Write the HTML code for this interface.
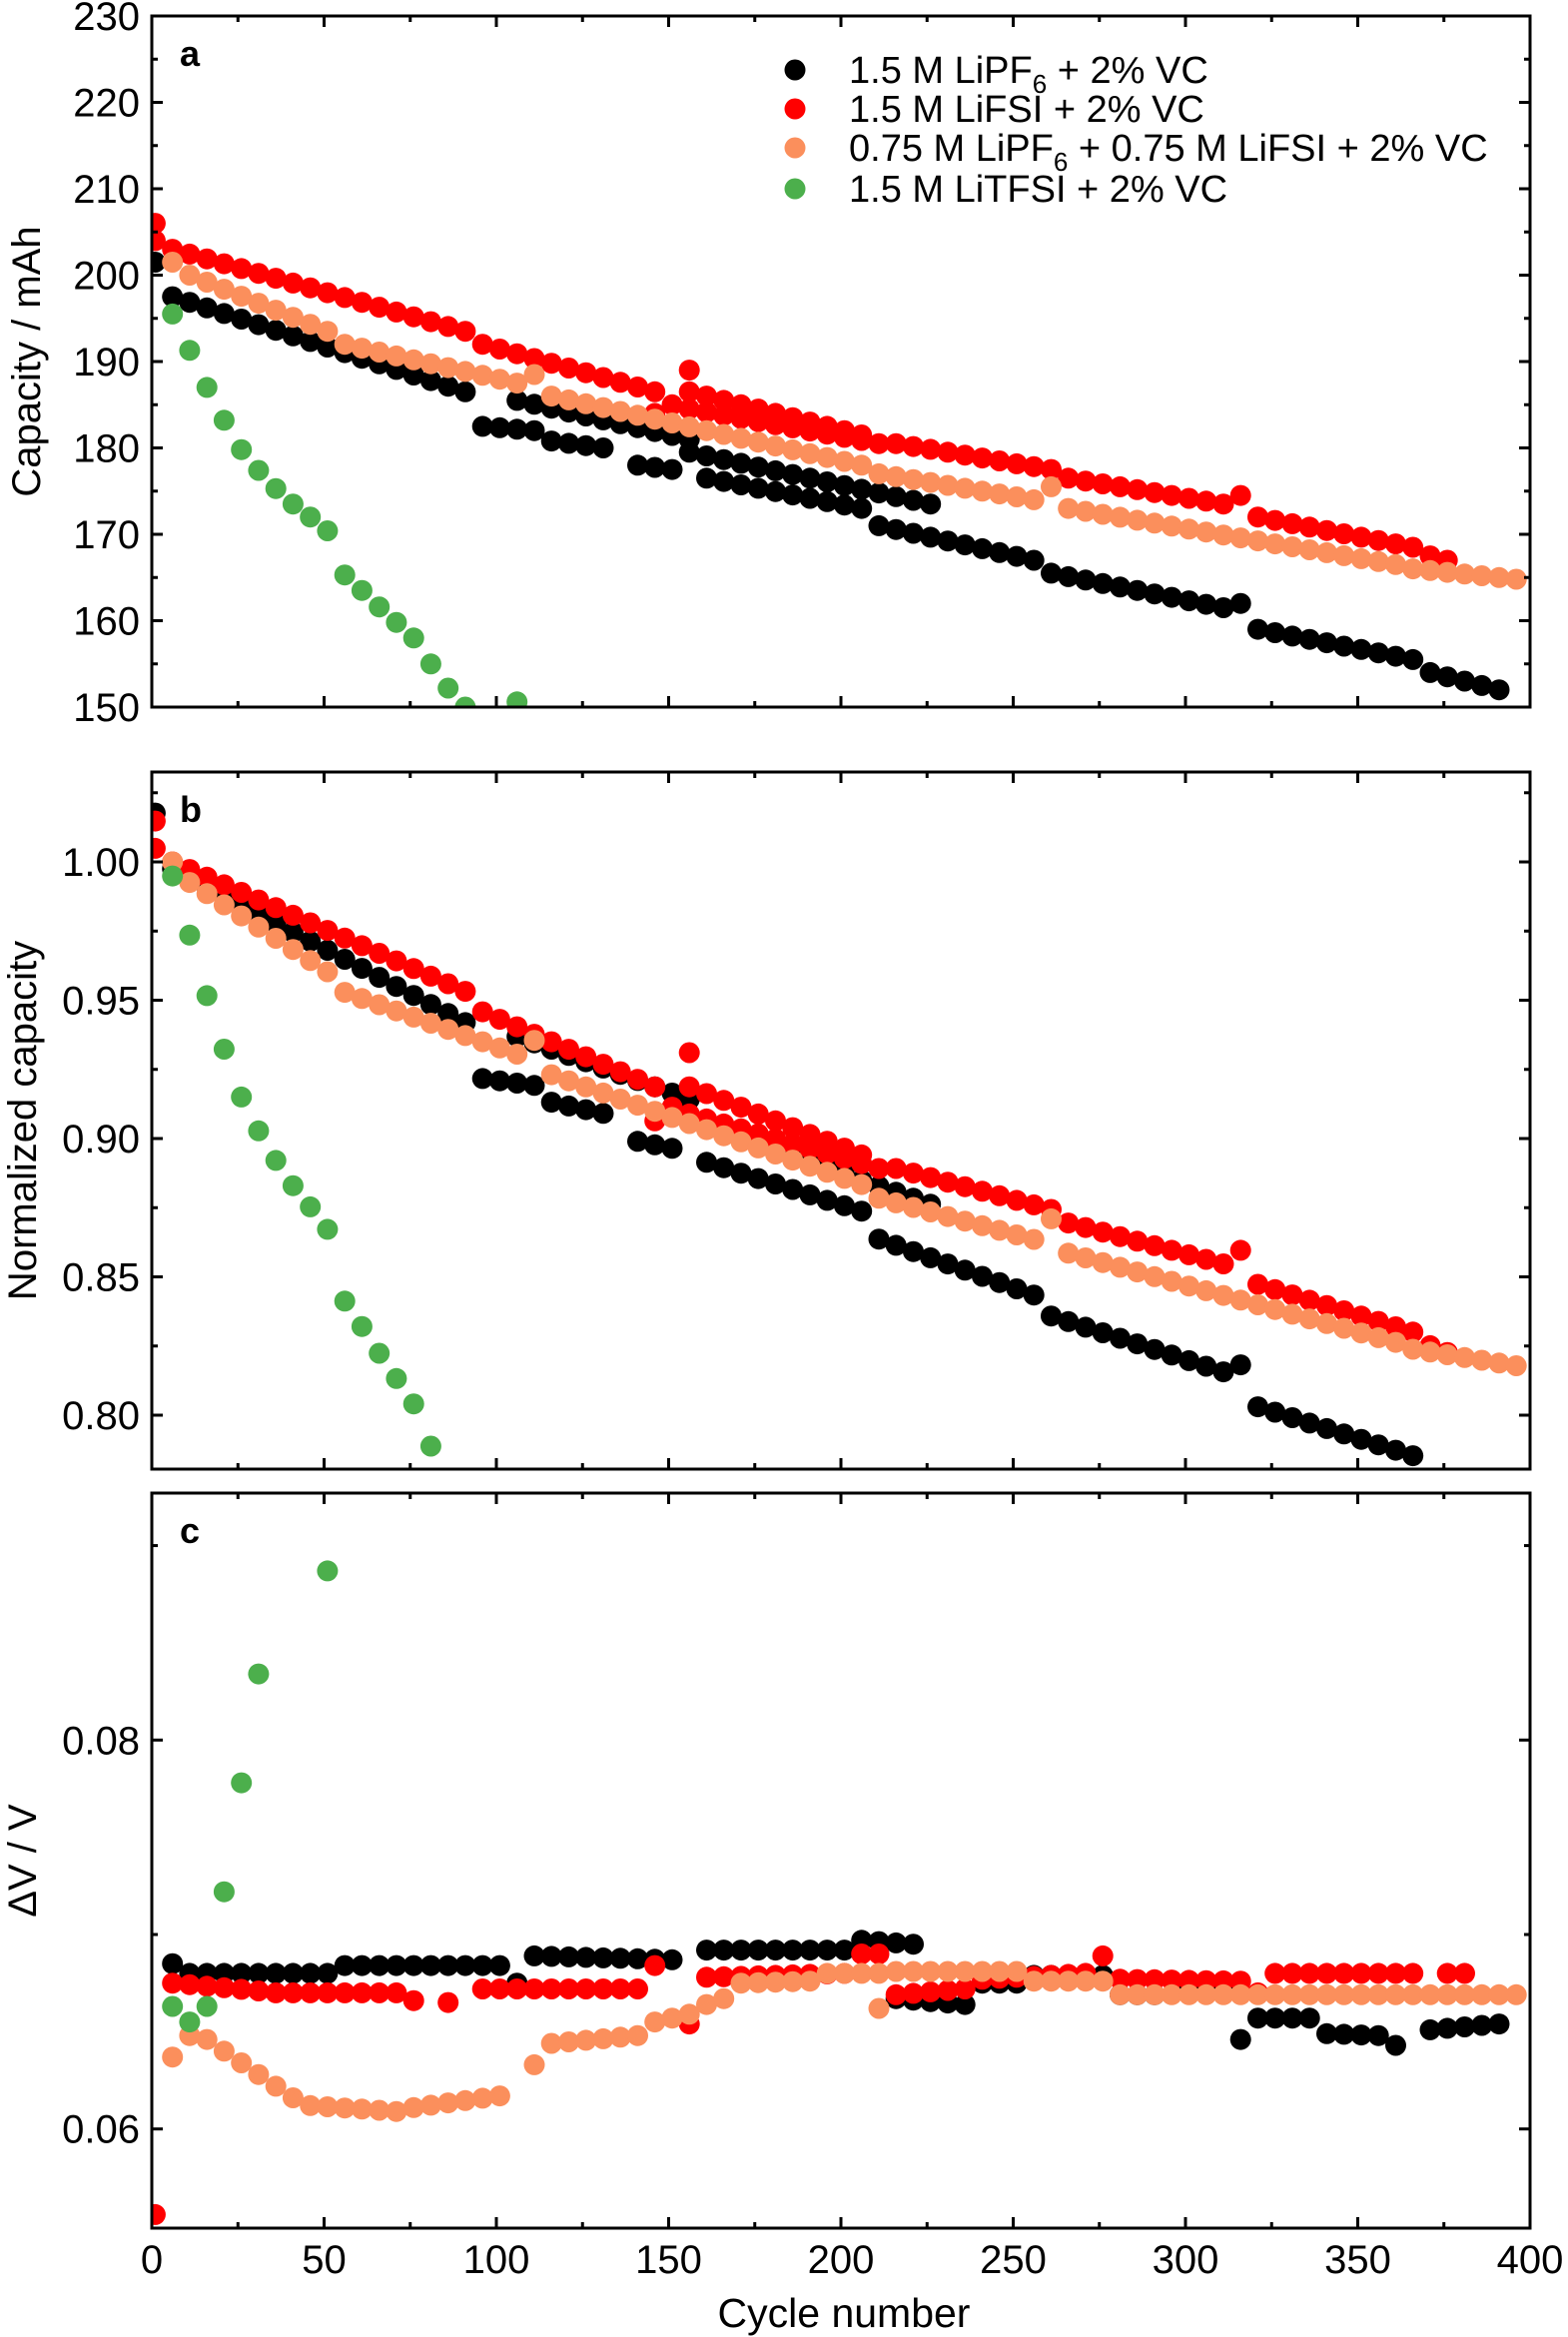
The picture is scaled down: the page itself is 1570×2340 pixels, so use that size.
<!DOCTYPE html>
<html><head><meta charset="utf-8"><style>
html,body{margin:0;padding:0;background:#fff;}
svg{display:block;font-family:"Liberation Sans",Arial,sans-serif;}
</style></head><body>
<svg id="s" width="1570" height="2340" viewBox="0 0 1570 2340" xmlns="http://www.w3.org/2000/svg">
<rect width="1570" height="2340" fill="#fff"/>
<g id="g"></g>
<g font-size="38" fill="#000">
<circle cx="796" cy="70" r="10.5" fill="#000"/>
<text x="850" y="83">1.5 M LiPF<tspan font-size="26" dy="10">6</tspan><tspan dy="-10"> + 2% VC</tspan></text>
<circle cx="796" cy="109" r="10.5" fill="#ff0000"/>
<text x="850" y="122">1.5 M LiFSI + 2% VC</text>
<circle cx="796" cy="148" r="10.5" fill="#fb8f5c"/>
<text x="850" y="161">0.75 M LiPF<tspan font-size="26" dy="10">6</tspan><tspan dy="-10"> + 0.75 M LiFSI + 2% VC</tspan></text>
<circle cx="796" cy="189" r="10.5" fill="#4caf4c"/>
<text x="850" y="202">1.5 M LiTFSI + 2% VC</text>
</g>
</svg>
<script>
var NS="http://www.w3.org/2000/svg",G=document.getElementById("g");
function el(t,a,txt){var e=document.createElementNS(NS,t);for(var k in a)e.setAttribute(k,a[k]);if(txt!=null)e.textContent=txt;G.appendChild(e);return e;}
var X0=152,X1=1532;function X(c){return X0+c*(X1-X0)/400;}
var P={
a:{t:16,b:708,min:150,max:230,maj:10,min2:5,fmt:function(v){return v.toFixed(0)},lab:"Capacity / mAh",lx:28},
b:{t:773,b:1471,min:0.7805,max:1.0325,maj:0.05,min2:0.025,fmt:function(v){return v.toFixed(2)},lab:"Normalized capacity",lx:24},
c:{t:1495,b:2231,min:0.0549,max:0.0927,maj:0.02,min2:0.01,fmt:function(v){return v.toFixed(2)},lab:"\u0394V / V",lx:24}};
function Y(p,v){return p.b-(v-p.min)*(p.b-p.t)/(p.max-p.min);}
function seg(arr,c0,v0,c1,v1){var n=Math.max(1,Math.round((c1-c0)/5));for(var i=0;i<=n;i++){var c=c0+(c1-c0)*i/n;arr.push([c,v0+(v1-v0)*i/n]);}if(c1==c0)arr.length-- ;}
function pt(arr,c,v){arr.push([c,v]);}
var K=[],R=[],O=[],Gr=[];
pt(K,1,201.5);seg(K,6,197.5,91,186.5);seg(K,96,182.5,111,182);seg(K,106,185.5,156,181);seg(K,116,180.8,131,180);seg(K,141,178,151,177.5);
seg(K,156,179.5,226,173.5);seg(K,161,176.5,206,173);seg(K,211,171,256,167);seg(K,261,165.5,311,161.5);pt(K,316,162);seg(K,321,159,366,155.5);seg(K,371,154,391,152);
pt(R,1,206);pt(R,1,204);seg(R,6,203,91,193.5);seg(R,96,192,146,186.5);pt(R,146,184);pt(R,151,185);pt(R,156,189);seg(R,156,184.5,211,180.5);seg(R,156,186.5,206,181.5);
seg(R,216,180.5,261,177.5);seg(R,266,176.5,311,173.5);pt(R,316,174.5);seg(R,321,172,366,168.5);seg(R,371,167.5,376,167);
pt(O,6,201.5);seg(O,11,200,51,193.5);seg(O,56,192,106,187.5);pt(O,111,188.5);seg(O,116,186,206,178);seg(O,211,177,256,174);pt(O,261,175.5);seg(O,266,173,361,166.5);seg(O,366,166,396,164.8);
[[6,195.5],[11,191.3],[16,187],[21,183.2],[26,179.8],[31,177.4],[36,175.3],[41,173.5],[46,172],[51,170.4],[56,165.3],[61,163.5],[66,161.6],[71,159.8],[76,158],[81,155],[86,152.2],[91,150],[106,150.6]].forEach(function(p){Gr.push(p)});
var cK=[],cR=[],cO=[],cG=[];
pt(cK,6,0.0685);seg(cK,11,0.068,51,0.068);seg(cK,56,0.0684,101,0.0684);pt(cK,106,0.0675);seg(cK,111,0.0689,151,0.0687);seg(cK,161,0.0692,201,0.0692);seg(cK,206,0.0697,221,0.0695);
seg(cK,216,0.0667,236,0.0664);seg(cK,241,0.0675,251,0.0675);seg(cK,256,0.0679,276,0.0679);seg(cK,281,0.0669,291,0.0669);seg(cK,301,0.0671,311,0.0671);pt(cK,316,0.0646);seg(cK,321,0.0657,336,0.0657);seg(cK,341,0.0649,356,0.0648);pt(cK,361,0.0643);seg(cK,371,0.0651,391,0.0654);
pt(cR,1,0.0556);seg(cR,6,0.0675,31,0.0671);seg(cR,36,0.067,71,0.067);pt(cR,76,0.0666);pt(cR,86,0.0665);seg(cR,96,0.0672,141,0.0672);pt(cR,146,0.0684);pt(cR,156,0.0654);seg(cR,161,0.0678,201,0.068);pt(cR,206,0.069);pt(cR,211,0.069);seg(cR,216,0.0669,236,0.0672);seg(cR,241,0.0677,271,0.068);pt(cR,276,0.0689);seg(cR,281,0.0677,316,0.0676);pt(cR,321,0.067);seg(cR,326,0.068,366,0.068);seg(cR,376,0.068,381,0.068);
pt(cO,6,0.0637);pt(cO,11,0.0648);seg(cO,16,0.0646,41,0.0616);seg(cO,46,0.0612,71,0.0609);seg(cO,76,0.0611,101,0.0617);pt(cO,111,0.0633);seg(cO,116,0.0644,141,0.0648);seg(cO,146,0.0655,156,0.0659);pt(cO,161,0.0664);pt(cO,166,0.0667);seg(cO,171,0.0675,191,0.0676);seg(cO,196,0.068,211,0.068);pt(cO,211,0.0662);
seg(cO,216,0.0681,251,0.0681);seg(cO,256,0.0676,276,0.0676);seg(cO,281,0.0669,396,0.0669);
[[6,0.0663],[11,0.0655],[16,0.0663],[21,0.0722],[26,0.0778],[31,0.0834],[51,0.0887]].forEach(function(p){cG.push(p)});
function dots(p,arr,col){arr.forEach(function(d){var y=Y(p,d[1]);if(y<p.t-2||y>p.b+2)return;el("circle",{cx:X(d[0]).toFixed(1),cy:y.toFixed(1),r:10.5,fill:col});});}
function nm(arr,div){return arr.map(function(d){return [d[0],d[1]/div]});}
var cols=["#000","#ff0000","#fb8f5c","#4caf4c"];
function clip(p,id){var c=el("clipPath",{id:id});var r=document.createElementNS(NS,"rect");r.setAttribute("x",X0);r.setAttribute("y",p.t);r.setAttribute("width",X1-X0);r.setAttribute("height",p.b-p.t);c.appendChild(r);}
function axes(key,letter,sets){var p=P[key];
 var g0=G;clip(p,"cl"+key);var gg=el("g",{"clip-path":"url(#cl"+key+")"});G=gg;
 sets.forEach(function(s,i){dots(p,s,cols[i]);});G=g0;
 el("rect",{x:X0,y:p.t,width:X1-X0,height:p.b-p.t,fill:"none",stroke:"#000","stroke-width":3});
 for(var c=0;c<=400;c+=25){var L=(c%50==0)?11:6;el("line",{x1:X(c),x2:X(c),y1:p.b,y2:p.b-L,stroke:"#000","stroke-width":3});el("line",{x1:X(c),x2:X(c),y1:p.t,y2:p.t+L,stroke:"#000","stroke-width":3});}
 var st=p.min2,start=Math.ceil(p.min/st-1e-6)*st;
 for(var v=start;v<=p.max+1e-9;v+=st){var maj=Math.abs(v/p.maj-Math.round(v/p.maj))<1e-6;var y=Y(p,v),L=maj?11:6;
  el("line",{x1:X0,x2:X0+L,y1:y,y2:y,stroke:"#000","stroke-width":3});el("line",{x1:X1,x2:X1-L,y1:y,y2:y,stroke:"#000","stroke-width":3});
  if(maj)el("text",{x:140,y:y+14,"font-size":40,"text-anchor":"end"},p.fmt(v));}
 el("text",{x:0,y:0,"font-size":40,"text-anchor":"middle",transform:"translate("+(p.lx+12)+","+((p.t+p.b)/2)+") rotate(-90)"},p.lab);
 el("text",{x:180,y:p.t+50,"font-size":36,"font-weight":"bold"},letter);
}
axes("a","a",[K,R,O,Gr]);
axes("b","b",[nm(K,198),nm(R,203),nm(O,201.5),nm(Gr,196.5)]);
axes("c","c",[cK,cR,cO,cG]);
for(var c=0;c<=400;c+=50)el("text",{x:X(c),y:2276,"font-size":40,"text-anchor":"middle"},""+c);
el("text",{x:845,y:2330,"font-size":41,"text-anchor":"middle"},"Cycle number");
</script>
</body></html>
